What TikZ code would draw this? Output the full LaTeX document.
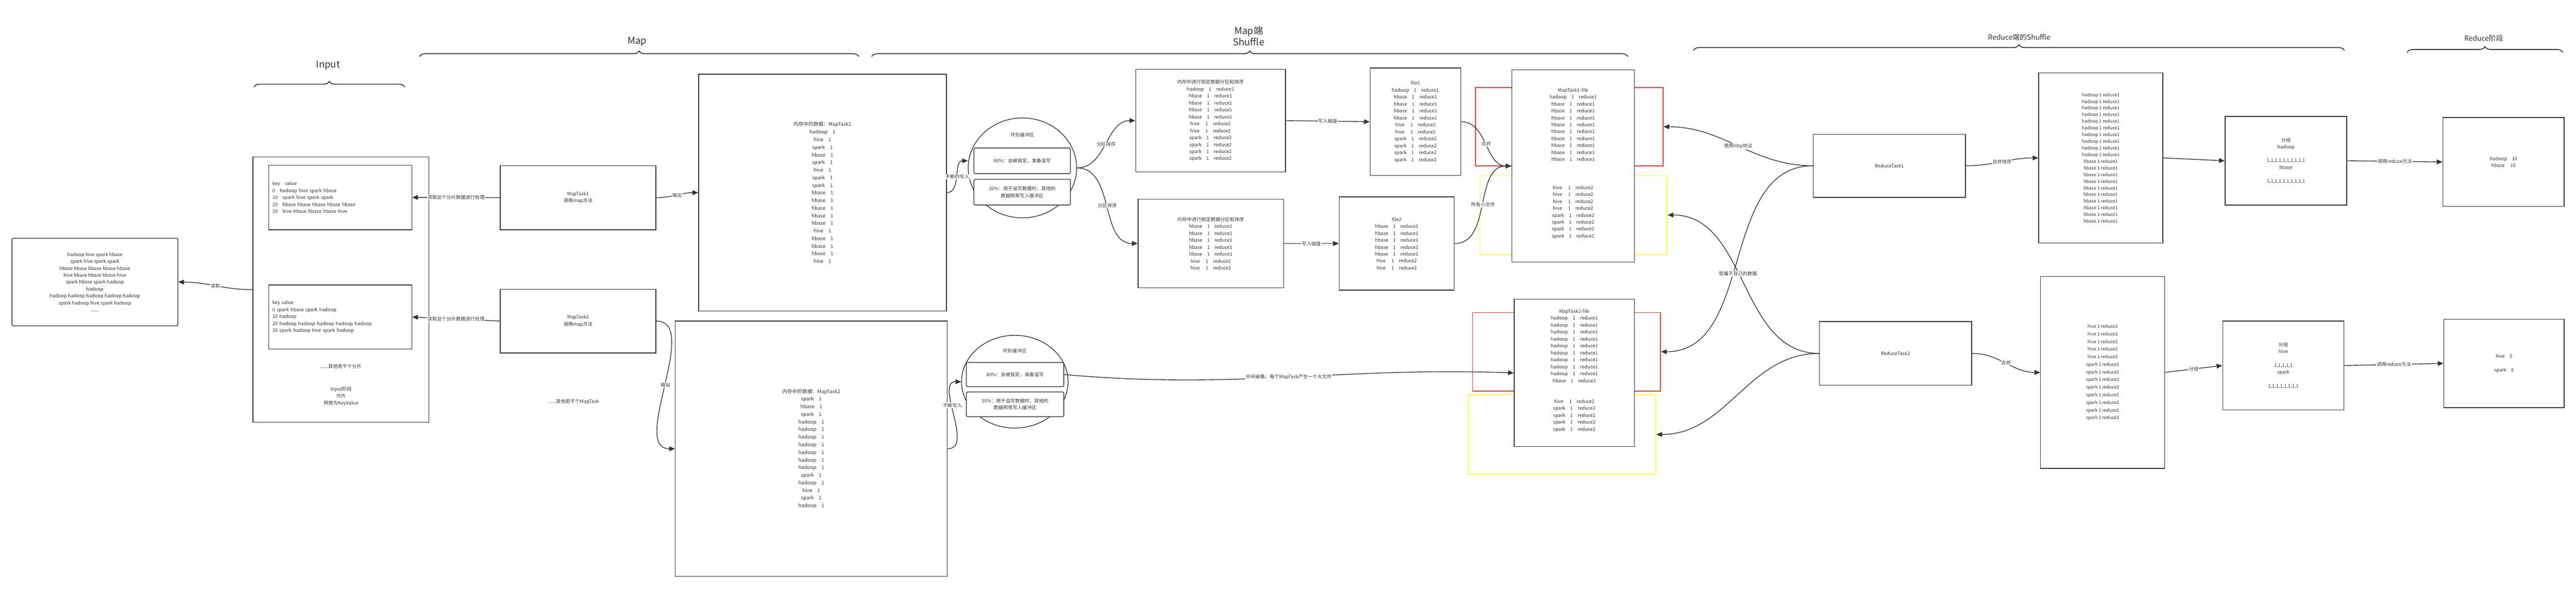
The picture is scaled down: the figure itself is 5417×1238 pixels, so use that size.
\documentclass[tikz,border=0pt]{standalone}
\usepackage{fontspec}
\setmainfont{Noto Sans CJK SC}
\usetikzlibrary{decorations.pathreplacing,shapes.geometric,arrows.meta}
\definecolor{ln}{HTML}{333333}
\definecolor{rd}{HTML}{FF3333}
\definecolor{yl}{HTML}{FFFF33}
\newcommand\Hr{hbase\quad 1\quad reduce1\\}
\newcommand\Dr{hadoop\quad 1\quad reduce1\\}
\newcommand\Vr{hive\quad\ 1\quad reduce2\\}
\newcommand\Sr{spark\quad 1\quad reduce2\\}
\newcommand\Hm{hadoop 1 reduce1\\}
\newcommand\Bm{hbase 1 reduce1\\}
\newcommand\Vm{hive 1 reduce2\\}
\newcommand\Sm{spark 1 reduce2\\}
\begin{document}
\begin{tikzpicture}[x=1pt,y=-1pt,
  every node/.style={text=ln},
  box/.style={draw=ln,line width=1.5pt,fill=white,inner sep=0pt,align=center,font=\fontsize{10}{14.6}\selectfont},
  tx/.style={align=center,inner sep=0pt,font=\fontsize{10}{14.6}\selectfont},
  arr/.style={draw=ln,line width=1.5pt,-{Triangle[length=12pt,width=10pt]}},
  lab/.style={fill=white,inner sep=1pt,font=\fontsize{10}{12}\selectfont},
  frame/.style={line width=1.8pt,inner sep=0pt},
  br/.style={draw=ln,line width=1.8pt,decorate,decoration={brace,amplitude=12pt}},
  hd/.style={font=\fontsize{20}{24}\selectfont}]
\useasboundingbox (0,0) rectangle (5417,1238);
% braces
\draw[br] (534,183) -- (851,183);
\node[hd] (hInput) at (690,137) {Input};
\draw[br] (882,119) -- (1806,119);
\node[hd] (hMap) at (1340,88) {Map};
\draw[br] (1833,119) -- (3423,119);
\node[hd,align=center] (hShuf) at (2626,76) {Map端\\Shuffle};
\draw[br] (3561,106) -- (4930,106);
\node[font=\fontsize{15}{18}\selectfont] (hRS) at (4246,78) {Reduce端的Shuffle};
\draw[br] (5062,110) -- (5389,110);
\node[font=\fontsize{15}{18}\selectfont] (hR) at (5223,80) {Reduce阶段};
% input
\node[box,rounded corners=3pt,minimum width=349,minimum height=184] (txt) at (199.5,593)
 {hadoop hive spark hbase\\spark hive spark spark\\hbase hbase hbase hbase hbase\\hive hbase hbase hbase hive\\spark hbase spark hadoop\\hadoop\\hadoop hadoop hadoop hadoop hadoop\\spark hadoop hive spark hadoop\\......};
\node[box,minimum width=370,minimum height=558] (inp) at (717,609) {};
\node[box,minimum width=301,minimum height=136,align=left,text width=285] (k1) at (715.5,415)
 {key\quad value\\0\quad hadoop hive spark hbase\\10\quad spark hive spark spark\\20\quad hbase hbase hbase hbase hbase\\30\quad hive hbase hbase hbase hive};
\node[box,minimum width=301,minimum height=135,align=left,text width=285] (k2) at (715.5,666.5)
 {key value\\0 spark hbase spark hadoop\\10 hadoop\\20 hadoop hadoop hadoop hadoop hadoop\\30 spark hadoop hive spark hadoop};
\node[tx] (other) at (717,770) {......其他若干个分片};
\node[tx] (istage) at (717,833) {Input阶段\\分片\\转换为KeyValue};
% map
\node[box,minimum width=327,minimum height=135] (mt1) at (1215.5,415.5) {MapTask1\\调用map方法};
\node[box,minimum width=327,minimum height=134] (mt2) at (1215.5,675) {MapTask2\\调用map方法};
\node[tx] (omt) at (1206,845) {......其他若干个MapTask};
\node[box,minimum width=521,minimum height=498,font=\fontsize{10.5}{16}\selectfont] (mem1) at (1729.5,405)
 {内存中的数据：MapTask1\\hadoop\quad 1\\hive\quad 1\\spark\quad 1\\hbase\quad 1\\spark\quad 1\\hive\quad 1\\spark\quad 1\\spark\quad 1\\hbase\quad 1\\hbase\quad 1\\hbase\quad 1\\hbase\quad 1\\hbase\quad 1\\hive\quad 1\\hbase\quad 1\\hbase\quad 1\\hbase\quad 1\\hive\quad 1};
\node[box,minimum width=572,minimum height=537,font=\fontsize{10.5}{16}\selectfont] (mem2) at (1706,943.5)
 {内存中的数据：MapTask2\\spark\quad 1\\hbase\quad 1\\spark\quad 1\\hadoop\quad 1\\hadoop\quad 1\\hadoop\quad 1\\hadoop\quad 1\\hadoop\quad 1\\hadoop\quad 1\\hadoop\quad 1\\spark\quad 1\\hadoop\quad 1\\hive\quad 1\\spark\quad 1\\hadoop\quad 1};
% ring buffers
\node[ellipse,draw=ln,line width=1.5pt,fill=white,minimum width=228,minimum height=210,inner sep=0pt] (ring1) at (2150,353) {};
\node[tx] (rt1l) at (2150,284) {环形缓冲区};
\node[box,rounded corners=3pt,minimum width=203,minimum height=54] (r1a) at (2149.5,338) {80\%：会被锁定，准备溢写};
\node[box,rounded corners=3pt,minimum width=203,minimum height=54] (r1b) at (2149.5,404) {20\%：用于溢写数据时，其他的\\数据照常写入缓冲区};
\node[ellipse,draw=ln,line width=1.5pt,fill=white,minimum width=224,minimum height=195,inner sep=0pt] (ring2) at (2134,802.5) {};
\node[tx] (rt2l) at (2134,738) {环形缓冲区};
\node[box,rounded corners=3pt,minimum width=205,minimum height=51] (r2a) at (2134.5,787.5) {80\%：会被锁定，准备溢写};
\node[box,rounded corners=3pt,minimum width=205,minimum height=52] (r2b) at (2134.5,850) {20\%：用于溢写数据时，其他的\\数据照常写入缓冲区};
% sort / files
\node[box,minimum width=315,minimum height=215] (sort1) at (2545.5,253.5)
 {内存中进行锁定数据分区和排序\\\Dr\Hr\Hr\Hr\Hr\Vr\Vr\Sr\Sr\Sr spark\quad 1\quad reduce2};
\node[box,minimum width=306,minimum height=186] (sort2) at (2546,512)
 {内存中进行锁定数据分区和排序\\\Hr\Hr\Hr\Hr\Hr\Vr hive\quad\ 1\quad reduce2};
\node[box,minimum width=191,minimum height=226] (file1) at (2976.5,256)
 {file1\\\Dr\Hr\Hr\Hr\Hr\Vr\Vr\Sr\Sr\Sr spark\quad 1\quad reduce2};
\node[box,minimum width=242,minimum height=196] (file2) at (2937,512)
 {file2\\\Hr\Hr\Hr\Hr\Hr\Vr hive\quad\ 1\quad reduce2};
% map task files
\node[draw=rd,frame,minimum width=394,minimum height=165] (red1) at (3300,266.5) {};
\node[draw=yl,frame,minimum width=394,minimum height=166] (yel1) at (3309,452) {};
\node[box,minimum width=258,minimum height=404] (mf1) at (3308,349) {};
\node[tx] (mf1a) at (3308,262) {MapTask1-file\\\Dr\Hr\Hr\Hr\Hr\Hr\Hr\Hr\Hr hbase\quad 1\quad reduce1};
\node[tx] (mf1b) at (3308,446) {\Vr\Vr\Vr\Vr\Sr\Sr\Sr spark\quad 1\quad reduce2};
\node[draw=rd,frame,minimum width=395,minimum height=165] (red2) at (3294.5,739.5) {};
\node[draw=yl,frame,minimum width=394,minimum height=167] (yel2) at (3285,913.5) {};
\node[box,minimum width=253,minimum height=310] (mf2) at (3310.5,784) {};
\node[tx] (mf2a) at (3310.5,727) {MapTask2-file\\\Dr\Dr\Dr\Dr\Dr\Dr\Dr\Dr\Dr hbase\quad 1\quad reduce1};
\node[tx] (mf2b) at (3310.5,874) {\Vr\Sr\Sr\Sr spark\quad 1\quad reduce2};
% reduce side
\node[box,minimum width=320,minimum height=133] (rt1) at (3973,348.5) {ReduceTask1};
\node[box,minimum width=320,minimum height=134] (rt2) at (3986,743) {ReduceTask2};
\node[box,minimum width=261,minimum height=358,font=\fontsize{9.5}{14}\selectfont] (mg1) at (4417.5,332)
 {\Hm\Hm\Hm\Hm\Hm\Hm\Hm\Hm\Hm\Hm\Bm\Bm\Bm\Bm\Bm\Bm\Bm\Bm\Bm hbase 1 reduce1};
\node[box,minimum width=261,minimum height=404,font=\fontsize{9.5}{16}\selectfont] (mg2) at (4421.5,783)
 {\Vm\Vm\Vm\Vm\Vm\Sm\Sm\Sm\Sm\Sm\Sm\Sm spark 1 reduce2};
\node[box,minimum width=256,minimum height=186] (g1) at (4807,338)
 {分组\\hadoop\\[14pt]1,1,1,1,1,1,1,1,1,1\\hbase\\[14pt]1,1,1,1,1,1,1,1,1,1};
\node[box,minimum width=255,minimum height=187] (g2) at (4801.5,768.5)
 {分组\\hive\\[14pt]1,1,1,1,1\\spark\\[14pt]1,1,1,1,1,1,1,1};
\node[box,minimum width=255,minimum height=187] (f1) at (5264.5,340.5) {hadoop\quad 10\\hbase\quad\ 10};
\node[box,minimum width=253,minimum height=186] (f2) at (5265.5,764) {hive\quad 5\\[14pt]spark\quad 8};
% connectors
\draw[arr] (inp.west) to[out=180,in=0] node[lab]{读取} (txt.east);
\draw[arr] (mt1.west) -- node[lab]{读取这个分片数据进行处理} (k1.east);
\draw[arr] (mt2.west) -- node[lab]{读取这个分片数据进行处理} (k2.east);
\draw[arr] (mt1.east) to[out=0,in=180] node[lab]{输出} (mem1.west);
\draw[arr] (mt2.east) to[out=0,in=180,looseness=0.9] node[lab,pos=0.5]{输出} (mem2.west);
\draw[arr] (mem1.east) to[out=0,in=180] node[lab,pos=0.5]{不断的写入} ([yshift=15pt]ring1.west);
\draw[arr] (ring1.east) to[out=0,in=180] node[lab]{分区排序} (sort1.west);
\draw[arr] (ring1.east) to[out=0,in=180] node[lab]{分区排序} (sort2.west);
\draw[arr] (sort1.east) -- node[lab]{写入磁盘} (file1.west);
\draw[arr] (sort2.east) -- node[lab]{写入磁盘} (file2.west);
\draw[arr] (file1.east) to[out=0,in=180] node[lab]{合并} (mf1.west);
\draw[arr] (file2.east) to[out=0,in=180] node[lab]{所有小文件} (mf1.west);
\draw[arr] (mem2.east) to[out=0,in=180] node[lab,pos=0.6]{不断写入} (ring2.west);
\draw[arr] (r2a.east) to[out=-5,in=178] node[lab]{中间省略，每个MapTask产生一个大文件} (mf2.west);
\draw[arr] (rt1.west) to[out=180,in=0] node[lab]{使用http协议} (red1.east);
\draw[arr] (rt1.west) to[out=180,in=0] (red2.east);
\draw[arr] (rt2.west) to[out=180,in=0] node[lab,pos=0.55]{取属于自己的数据} (yel1.east);
\draw[arr] (rt2.west) to[out=180,in=0] (yel2.east);
\draw[arr] (rt1.east) to[out=0,in=180] node[lab]{合并排序} (mg1.west);
\draw[arr] (mg1.east) -- (g1.west);
\draw[arr] (g1.east) -- node[lab]{调用reduce方法} (f1.west);
\draw[arr] (rt2.east) to[out=0,in=180] node[lab]{合并} (mg2.west);
\draw[arr] (mg2.east) -- node[lab]{分组} (g2.west);
\draw[arr] (g2.east) -- node[lab]{调用reduce方法} (f2.west);
\end{tikzpicture}
\end{document}
